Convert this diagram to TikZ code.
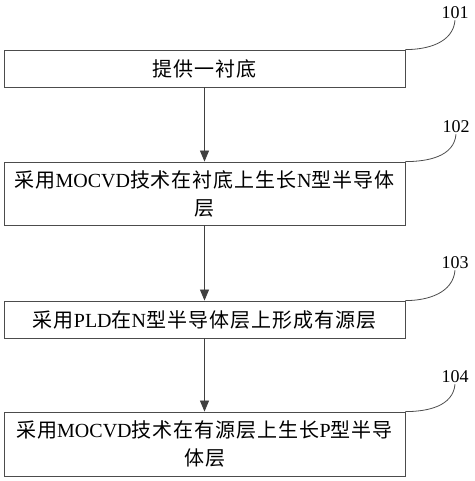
\documentclass[tikz,border=0pt]{standalone}
\usepackage{fontspec}
\setmainfont{Liberation Serif}
\newfontfamily\cjk[LetterSpace=5]{Noto Sans CJK SC}
\usetikzlibrary{arrows.meta}
\begin{document}
\begin{tikzpicture}[x=1pt,y=1pt,
  stepbox/.style={draw=black!70, line width=0.8pt, minimum width=401pt, inner sep=0pt, align=center, font=\fontsize{20}{28}\selectfont},
  numlabel/.style={font=\fontsize{18}{20}\selectfont, inner sep=1pt},
  flow/.style={draw=black!75, line width=0.8pt, -{Triangle[width=9pt,length=11pt]}},
  lead/.style={draw=black!70, line width=0.8pt}]
\useasboundingbox (0,0) rectangle (474,481);
\node[stepbox, minimum height=37pt] (b1) at (204.5,412.5) {{\cjk 提供一衬底}};
\node[stepbox, minimum height=63pt] (b2) at (204.5,287.5) {{\cjk 采用}MOCVD{\cjk 技术在衬底上生长}N{\cjk 型半导体}\\{\cjk 层}};
\node[stepbox, minimum height=37pt] (b3) at (204.5,161.5) {{\cjk 采用}PLD{\cjk 在}N{\cjk 型半导体层上形成有源层}};
\node[stepbox, minimum height=64pt] (b4) at (204.5,37) {{\cjk 采用}MOCVD{\cjk 技术在有源层上生长}P{\cjk 型半导}\\{\cjk 体层}};
\node[numlabel] (l1) at (455,468) {101};
\node[numlabel] (l2) at (456,354) {102};
\node[numlabel] (l3) at (455,218) {103};
\node[numlabel] (l4) at (455,104) {104};
\draw[flow] (b1.south) -- (b2.north);
\draw[flow] (b2.south) -- (b3.north);
\draw[flow] (b3.south) -- (b4.north);
\draw[lead] (b1.north east) to[out=0,in=-95] (l1.south);
\draw[lead] (b2.north east) to[out=0,in=-95] (l2.south);
\draw[lead] (b3.north east) to[out=0,in=-95] (l3.south);
\draw[lead] (b4.north east) to[out=0,in=-95] (l4.south);
\end{tikzpicture}
\end{document}
